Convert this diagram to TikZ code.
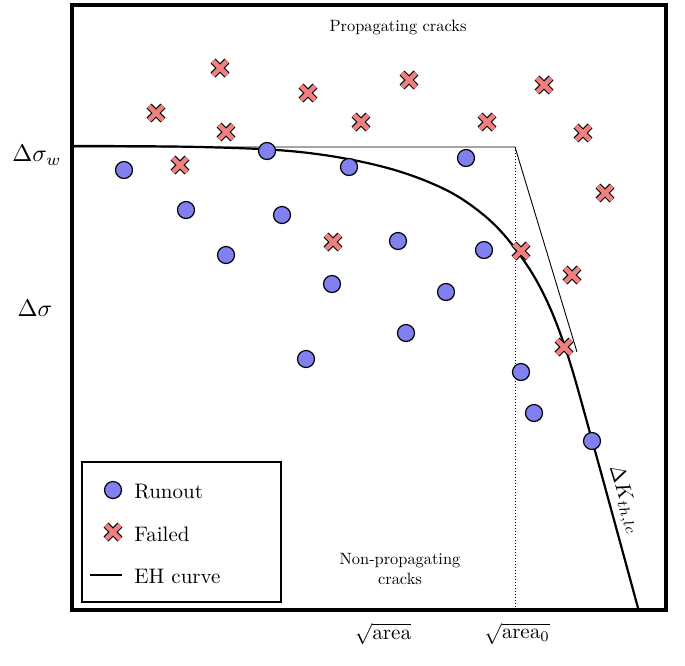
\documentclass[tikz,border=0pt]{standalone}
\definecolor{runc}{HTML}{8080F0}
\definecolor{failc}{HTML}{F08080}
\tikzset{
 run/.style={circle,draw=black,fill=runc,line width=1.2pt,minimum size=17pt,inner sep=0pt},
 lbl/.style={font=\normalsize,inner sep=0pt,scale=2.1},
 big/.style={font=\normalsize,inner sep=0pt,scale=2.4},
 pics/failmk/.style={code={
   \draw[line width=7pt,black] (-7,-7) -- (7,7) (-7,7) -- (7,-7);
   \draw[line width=4.6pt,failc] (-7,-7) -- (7,7) (-7,7) -- (7,-7);}},
}
\begin{document}
\begin{tikzpicture}[x=1pt,y=-1pt]
\useasboundingbox (0,0) rectangle (685,665);
\draw[line width=4pt] (72,5) rectangle (666,610);
\coordinate (k) at (515,147);
\coordinate (kb) at (515,610);
\draw[line width=0.9pt] (72,147) -- (k) -- (577,352);
\draw[dotted,line width=1pt] (k) -- (kb);
\draw[line width=2.2pt] plot[smooth,tension=0.6] coordinates{(72,146) (200,147) (300,152) (380,166) (440,187) (480,212) (510,242) (540,287) (565,347) (592,440) (638,608)};
\foreach \p [count=\i] in {(124,170),(186,210),(226,255),(267,151),(282,215),(349,167),(332,284),(306,359),(398,241),(406,333),(446,292),(466,158),(484,250),(521,372),(534,413),(592,441)}
  \node[run] (r\i) at \p {};
\foreach \p in {(156,113),(220,68),(226,132),(180,165),(308,93),(361,122),(409,80),(487,122),(544,85),(583,133),(605,193),(333,242),(521,251),(572,275),(564,347)}
  \pic at \p {failmk};
\node[lbl,scale=0.78] (prop) at (398,27) {Propagating cracks};
\node[lbl,scale=0.78,align=center] (nonprop) at (400,569) {Non-propagating\\cracks};
\node[big] (dsw) at (37,155) {$\Delta\sigma_w$};
\node[big] (ds) at (35,308) {$\Delta\sigma$};
\node[lbl] (sa) at (383,634) {$\sqrt{\mathrm{area}}$};
\node[lbl] (sa0) at (517,634) {$\sqrt{\mathrm{area}_0}$};
\node[lbl,rotate=-73] (dk) at (624,500) {$\Delta K_{th,lc}$};
% legend
\draw[line width=1.3pt,fill=white] (82,462) rectangle (281,602);
\node[run] (lr) at (113,490) {};
\pic at (113,532) {failmk};
\coordinate (la) at (90,575); \coordinate (lb) at (122,575);
\draw[line width=2.2pt] (la) -- (lb);
\node[lbl,anchor=west] (t1) at (134,492) {Runout};
\node[lbl,anchor=west] (t2) at (134,534) {Failed};
\node[lbl,anchor=west] (t3) at (134,576) {EH curve};
\end{tikzpicture}
\end{document}
